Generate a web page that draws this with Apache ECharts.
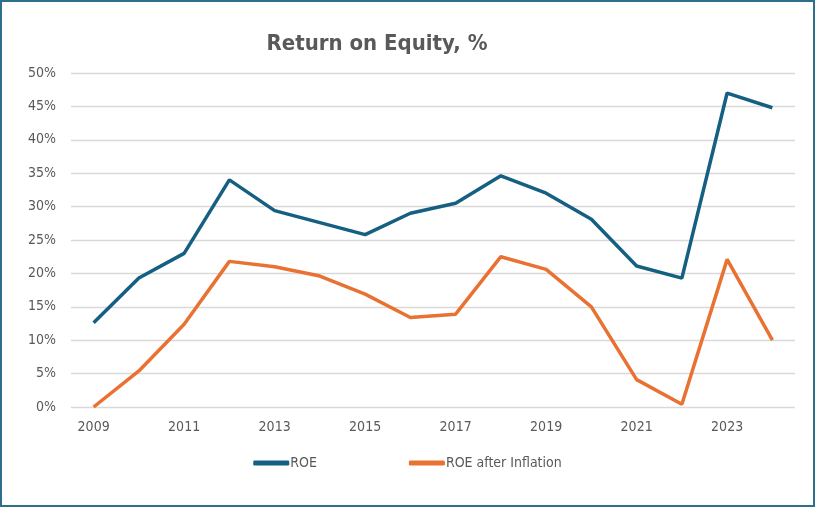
<!DOCTYPE html>
<html>
<head>
<meta charset="utf-8">
<script src="https://cdn.jsdelivr.net/npm/echarts@6/dist/echarts.min.js"></script>
<style>
html,body{margin:0;padding:0;background:#fff;}
#c{width:815px;height:507px;box-sizing:border-box;border:2px solid #2E6F8E;}
</style>
</head>
<body>
<div id="c"></div>
<script>
const years = ['2009','2010','2011','2012','2013','2014','2015','2016','2017','2018','2019','2020','2021','2022','2023','2024'];
const roe = [12.6,19.3,23.0,34.0,29.4,27.6,25.8,29.0,30.5,34.6,32.0,28.1,21.1,19.3,47.0,44.8];
const roeAfterInflation = [0.0,5.4,12.4,21.8,21.0,19.6,16.9,13.4,13.9,22.5,20.6,15.0,4.1,0.4,22.1,10.0];
const title = 'Return on Equity, %';
const seriesNames = ['ROE','ROE after Inflation'];

const font = '"Liberation Sans Narrow","DejaVu Sans Condensed",sans-serif';
const chart = echarts.init(document.getElementById('c'));
chart.setOption({
  animation:false,
  title:{text:title,left:370,top:26,textAlign:'center',textStyle:{fontFamily:font,fontSize:22,fontWeight:'bold',color:'#595959'}},
  grid:{left:69,right:18,top:71,bottom:98},
  legend:{bottom:30,left:'center',itemGap:92,itemWidth:36,itemHeight:5,icon:'roundRect',
    textStyle:{fontFamily:font,fontSize:14,color:'#595959',padding:[0,0,0,-4]},data:seriesNames},
  xAxis:{type:'category',data:years,boundaryGap:true,
    axisLine:{show:false},axisTick:{show:false},
    axisLabel:{interval:1,margin:13,fontFamily:font,fontSize:14,color:'#595959'}},
  yAxis:{type:'value',min:0,max:50,interval:5,
    axisLabel:{formatter:'{value}%',margin:15,fontFamily:font,fontSize:14,color:'#595959'},
    splitLine:{lineStyle:{color:'#D9D9D9',width:1.3}}},
  series:[
    {name:seriesNames[0],type:'line',data:roe,showSymbol:false,lineStyle:{width:3.5,color:'#156082'},itemStyle:{color:'#156082'}},
    {name:seriesNames[1],type:'line',data:roeAfterInflation,showSymbol:false,lineStyle:{width:3.5,color:'#E97132'},itemStyle:{color:'#E97132'}}
  ]
});
</script>
</body>
</html>
